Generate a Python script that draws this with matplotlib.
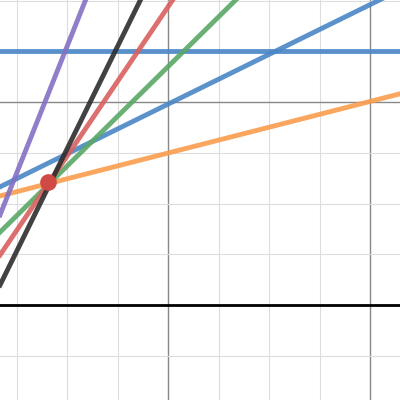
import matplotlib
matplotlib.use("Agg")
import matplotlib.pyplot as plt
import numpy as np

# line data: slope, intercept
names = ["orange", "blue", "green", "red", "black", "purple"]
slopes = [0.254, 0.49, 0.98, 1.47, 2.02, 2.5]
intercepts = [1.98, 2.0, 0.78, 0.0, -0.96, 0.1]
colors = ["#fa9d4d", "#4a86c6", "#5aa866", "#d9605e", "#2d2d2d", "#8470c4"]
hline_y = 5.0
point_x, point_y = 1.62, 2.42

xmin, xmax = 0.67, 8.59
ymin, ymax = -1.87, 6.01

fig = plt.figure(figsize=(4, 4), dpi=100)
ax = fig.add_axes([0, 0, 1, 1])
ax.set_xlim(xmin, xmax)
ax.set_ylim(ymin, ymax)
ax.axis("off")

# grid
for gx in np.arange(1, 9):
    major = gx % 4 == 0
    ax.axvline(gx, color="#888" if major else "#ddd", lw=1.0 if major else 0.8, zorder=0)
for gy in np.arange(-1, 7):
    if gy == 0:
        ax.axhline(0, color="black", lw=2, zorder=1)
    else:
        major = gy % 4 == 0
        ax.axhline(gy, color="#888" if major else "#ddd", lw=1.0 if major else 0.8, zorder=0)

ax.axhline(hline_y, color="#4a86c6", lw=3.5, alpha=0.9, zorder=2)
xs = np.array([xmin, xmax])
for m, b, c in zip(slopes, intercepts, colors):
    ax.plot(xs, m * xs + b, color=c, lw=3.5, alpha=0.9, zorder=3)

ax.plot(point_x, point_y, "o", color="#d04a45", ms=11, zorder=5)

fig.savefig("out.png", dpi=100)
